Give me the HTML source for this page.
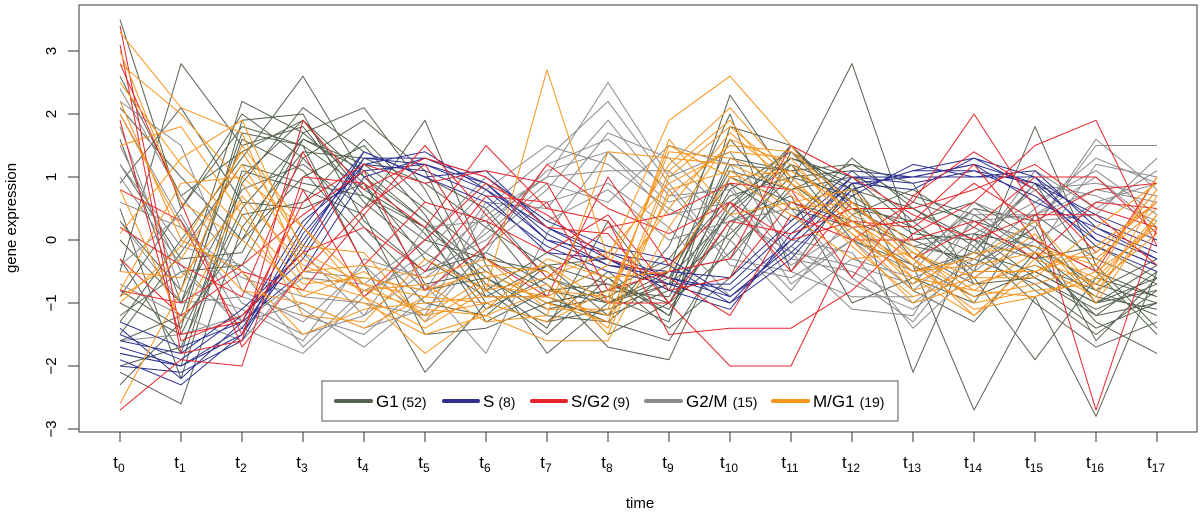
<!DOCTYPE html>
<html><head><meta charset="utf-8"><style>
html,body{margin:0;padding:0;background:#fff}
svg{display:block;font-family:"Liberation Sans",Arial,sans-serif}
</style></head><body>
<svg id="chart" width="1200" height="512" viewBox="0 0 1200 512" xmlns="http://www.w3.org/2000/svg">
<g id="lines"></g>
<rect x="79" y="5" width="1118" height="427" fill="none" stroke="#333" stroke-width="1"/>
<g id="yaxis"></g>
<g id="xaxis"></g>
<text transform="translate(16,218) rotate(-90)" text-anchor="middle" font-size="15" fill="#000">gene expression</text>
<text x="640" y="508" text-anchor="middle" font-size="15" fill="#000">time</text>
<g>
<rect x="322" y="381" width="576" height="40" fill="#fff" stroke="#555" stroke-width="1"/>
<g><line x1="336" y1="401" x2="371" y2="401" stroke="#56624f" stroke-width="4" stroke-linecap="round"/><text x="376" y="407" font-size="17">G1<tspan font-size="14" dx="3">(52)</tspan></text></g>
<g><line x1="444" y1="401" x2="478" y2="401" stroke="#2e3192" stroke-width="4" stroke-linecap="round"/><text x="483" y="407" font-size="17">S<tspan font-size="14" dx="4">(8)</tspan></text></g>
<g><line x1="532" y1="401" x2="566" y2="401" stroke="#e8242b" stroke-width="4" stroke-linecap="round"/><text x="571" y="407" font-size="17">S/G2<tspan font-size="14" dx="3">(9)</tspan></text></g>
<g><line x1="646" y1="401" x2="681" y2="401" stroke="#8a8a8a" stroke-width="4" stroke-linecap="round"/><text x="686" y="407" font-size="17">G2/M<tspan font-size="14" dx="5">(15)</tspan></text></g>
<g><line x1="773" y1="401" x2="808" y2="401" stroke="#f7941d" stroke-width="4" stroke-linecap="round"/><text x="813" y="407" font-size="17">M/G1<tspan font-size="14" dx="5">(19)</tspan></text></g>
</g>
</svg>
<script>
const timeLabels=["0","1","2","3","4","5","6","7","8","9","10","11","12","13","14","15","16","17"];
const yTicks=[-3,-2,-1,0,1,2,3];
const g1Series=[
[-1.0,-1.5,0.5,1.6,1.2,0.5,-0.3,-0.8,-1.0,-0.6,0.4,1.3,1.0,0.2,-0.2,-0.5,-1.0,-0.8],
[-1.8,-2.0,1.0,1.9,1.0,0.3,-0.5,-1.0,-0.8,-0.9,0.8,1.4,0.8,0.5,0.0,-0.3,-1.2,-1.0],
[3.5,0.5,1.8,1.5,0.8,0.2,-0.6,-1.2,-1.3,-0.5,2.3,0.9,2.8,0.0,-0.4,0.2,-1.6,-0.6],
[-0.5,2.8,1.5,1.8,0.6,-0.2,-0.8,-1.5,-0.6,-1.2,0.5,1.5,0.6,-0.2,-0.7,-0.4,-0.8,-1.2],
[-2.1,-2.6,0.2,1.4,1.3,0.9,0.2,-0.4,-0.7,-1.0,-0.2,0.8,1.2,0.6,0.3,0.0,-0.5,-0.9],
[0.3,-0.8,2.2,1.7,2.1,0.8,-0.9,-0.9,-1.3,-1.6,0.0,1.2,0.8,-2.1,0.1,-0.6,-1.1,-0.7],
[-1.3,0.0,1.3,2.6,1.0,0.1,-1.1,-0.6,-0.9,-0.4,0.7,1.0,1.1,0.3,-0.5,1.8,-0.4,-1.4],
[1.6,-1.0,0.8,1.2,0.5,1.9,-0.4,-1.8,-1.0,-0.7,1.6,0.5,0.2,-0.4,-2.7,-0.9,-2.8,-0.5],
[-0.8,-1.4,1.9,2.0,0.3,-0.5,-0.2,-0.7,-1.7,-1.9,0.2,1.5,0.5,0.3,0.6,0.0,-0.8,-0.3],
[2.1,1.0,0.0,1.0,1.5,0.4,-1.0,-1.3,-0.5,-1.2,1.0,0.6,0.3,-0.1,-0.3,-0.7,-1.4,-1.0],
[-1.6,-1.2,1.6,1.1,0.0,-1.0,-1.2,-0.4,-0.3,-0.8,1.3,1.1,0.6,0.2,-0.6,-1.9,-0.6,-0.9],
[0.9,2.1,0.6,0.5,0.9,-0.7,-0.5,-1.0,-1.2,-0.1,2.0,-0.5,0.9,-0.8,-1.3,-0.2,-1.3,-1.8],
[-1.2,-0.5,-0.4,1.3,1.9,1.1,-0.8,-0.2,-0.6,-1.4,-0.6,1.4,0.4,0.8,0.2,-0.3,-0.1,-0.6],
[-0.3,-1.8,1.1,0.8,0.4,-1.5,-1.4,-1.0,-0.8,-0.3,0.9,0.3,1.3,0.5,-0.1,-1.0,-1.7,-1.3],
[2.6,0.7,1.4,1.9,0.7,0.0,-0.3,-0.5,-1.5,-1.0,0.5,1.2,0.0,-0.4,-0.9,-0.5,-1.0,-0.4],
[-2.0,-1.7,0.4,0.6,1.6,0.6,0.3,-0.9,-0.4,-0.6,1.1,0.8,1.0,0.7,0.4,-0.2,-0.9,-1.1],
[0.0,-1.0,1.7,1.5,-0.4,-2.1,-1.0,-1.3,-1.1,-0.7,0.1,1.0,0.7,0.1,0.0,-0.8,-1.5,-0.8],
[1.2,-0.3,-0.2,1.6,1.1,0.3,-0.7,-1.4,0.3,-1.0,0.6,1.3,0.9,-0.3,0.5,0.3,-1.0,-0.6],
[-1.5,-0.2,1.2,0.9,0.7,0.2,-1.3,-0.8,-0.7,-1.1,0.3,0.7,-1.0,-0.6,-1.0,0.4,-0.3,-0.7],
[-0.9,0.5,2.0,1.3,0.2,-0.8,-0.6,-1.1,-0.9,-1.3,1.8,1.5,0.5,0.0,0.1,-0.1,-0.7,-1.0],
[0.5,-2.2,0.9,2.1,1.4,1.0,0.5,-0.6,-1.0,-0.5,-0.3,0.9,0.2,-0.5,-0.2,0.9,-0.5,-1.5],
[-2.3,-1.3,0.0,1.7,0.9,-0.3,-0.9,-0.4,-1.2,-0.8,1.2,1.1,1.2,0.9,-0.7,-0.6,-1.2,-0.5]
];
const g2mSeries=[
[2.4,0.7,-0.5,-1.7,-0.8,-0.4,0.4,1.0,2.5,1.0,1.4,0.0,-0.2,-1.4,-0.5,0.2,1.5,1.5],
[2.0,0.3,-1.0,-1.5,-1.2,-0.5,0.0,0.8,1.9,0.7,0.8,-0.3,-0.5,-1.0,-0.3,0.5,1.3,0.9],
[1.5,-0.5,-1.3,-1.0,-1.4,-1.1,-0.2,1.2,1.6,0.8,-0.4,-0.6,0.0,-0.8,0.0,0.8,0.9,0.7],
[-0.7,-1.2,-1.6,-0.5,-0.6,-0.8,0.6,0.5,1.7,1.3,0.4,-0.2,-1.1,-1.2,0.4,0.4,1.0,0.2],
[1.0,-0.4,-1.4,-1.8,-0.9,-0.2,0.8,1.5,1.2,0.5,0.0,-1.0,-0.3,-0.6,-0.2,1.1,0.5,1.1],
[0.3,-1.0,-0.9,-1.2,-1.5,-0.7,-1.8,0.1,1.4,0.4,0.6,-0.4,0.2,-0.4,0.6,0.2,1.6,0.8],
[2.2,1.5,-0.8,-1.3,-0.4,-1.3,-0.1,0.6,0.9,0.2,-0.9,-0.1,-0.7,-1.1,-0.4,0.3,0.4,1.3],
[-1.6,-1.5,-1.2,-0.2,-1.2,0.2,0.3,1.0,1.1,1.1,0.2,-0.8,0.4,-0.1,0.1,0.6,1.1,0.4],
[0.6,0.2,-0.6,-0.9,-1.0,-1.2,0.5,1.3,2.2,0.9,-0.3,-0.5,-0.9,-0.9,-0.6,0.0,0.6,0.9],
[1.8,-0.8,-1.1,-1.6,-0.3,-0.6,0.1,0.9,0.6,1.5,1.2,-0.2,-0.4,-0.7,0.3,0.4,0.8,0.6],
[-0.4,0.4,-1.3,-0.6,-0.7,0.0,1.0,0.3,0.8,0.0,0.3,0.5,-0.6,-1.3,-0.1,0.9,0.7,0.3],
[1.2,-0.1,-0.4,-1.1,-1.7,-0.9,0.2,1.1,1.4,0.6,0.9,-0.7,0.0,-0.5,0.5,-0.2,1.2,1.0]
];
const sSeries=[
[-1.7,-2.0,-1.4,0.0,1.3,1.2,0.9,0.0,-0.4,-0.6,-0.8,0.0,0.9,1.0,1.2,0.9,0.1,-0.3],
[-1.5,-1.9,-1.2,-0.3,1.2,1.4,0.8,0.2,-0.2,-0.4,-1.0,-0.3,0.8,1.1,1.3,1.0,0.3,-0.1],
[-1.9,-2.3,-1.5,0.2,1.4,1.0,0.6,-0.1,-0.5,-0.7,-0.7,0.2,1.0,0.9,1.1,0.7,0.0,-0.4],
[-1.3,-1.7,-1.3,-0.5,1.0,1.3,1.0,0.3,-0.1,-0.3,-0.9,-0.2,0.7,1.2,1.0,1.1,0.2,-0.2],
[-2.0,-2.1,-1.6,0.1,1.2,1.1,0.7,-0.2,-0.3,-0.8,-1.1,0.1,0.9,0.8,1.3,0.8,-0.1,-0.5],
[-1.6,-1.8,-1.1,-0.2,1.3,1.3,0.9,0.1,-0.4,-0.5,-0.6,0.3,1.1,1.0,1.2,0.6,0.2,-0.3],
[-1.4,-2.2,-1.3,0.3,1.1,1.2,0.8,0.0,-0.2,-0.6,-0.9,-0.1,0.8,1.1,1.1,0.9,0.4,0.0],
[-1.8,-2.0,-1.5,-0.1,1.4,1.0,1.1,0.2,-0.3,-0.7,-1.0,0.0,1.0,1.0,1.0,1.0,0.0,-0.4]
];
const sg2Series=[
[3.1,-1.8,-1.6,1.9,0.8,1.3,1.0,0.2,0.1,-1.0,-2.0,-2.0,0.0,0.6,2.0,0.5,-2.7,0.2],
[-2.7,-1.9,-2.0,1.0,0.9,0.2,1.5,0.5,0.3,-1.5,-1.4,-1.4,-0.8,0.1,0.6,1.5,1.9,-0.1],
[2.8,0.6,-1.7,-0.5,0.5,1.2,-0.3,-0.9,1.0,-0.4,0.6,0.0,0.3,0.2,0.9,0.3,0.8,0.9],
[3.4,-1.5,-1.3,0.6,1.2,0.9,1.1,0.9,-0.8,-0.5,-0.3,1.5,1.0,0.4,0.0,0.4,0.4,-0.4],
[-0.3,-1.2,-0.5,-0.8,0.4,1.5,0.4,-0.6,0.2,0.4,0.9,0.8,-0.6,0.7,1.4,0.8,-0.2,0.6],
[1.9,-1.6,-1.2,-0.2,0.2,-0.5,0.7,0.6,-1.0,-1.0,0.3,0.1,0.5,0.5,0.8,1.2,0.5,0.2],
[0.8,0.3,-1.5,0.8,-0.9,0.0,0.9,0.4,-0.3,-0.6,-1.2,0.4,0.0,0.0,0.3,-0.3,0.6,0.5],
[-0.8,-1.0,-0.4,0.4,1.1,-0.8,-0.1,1.2,0.5,0.1,0.6,-0.5,0.6,-0.3,0.2,1.0,1.0,0.1],
[0.2,-0.4,-0.9,1.4,-0.4,0.6,0.3,-0.2,0.4,-0.8,-0.6,0.6,0.2,0.3,1.2,0.0,-0.5,1.0]
];
const mg1Series=[
[2.8,2.0,0.9,-0.6,-0.9,-1.4,-0.8,2.7,-0.3,1.9,2.6,1.5,0.3,-0.3,-0.9,-0.7,-0.4,0.8],
[3.0,0.6,0.0,-0.8,-1.0,-1.5,-1.2,-1.6,-1.6,0.2,1.6,1.2,0.4,-0.6,-1.2,-0.3,-0.7,0.4],
[-2.6,-0.8,1.5,0.2,-0.7,-0.9,-1.0,-0.7,-1.4,1.0,1.8,1.0,0.1,-0.8,-0.5,-0.5,-0.2,0.6],
[2.5,1.2,0.2,-0.9,-0.5,-1.2,-0.6,-0.4,-1.0,1.5,1.0,0.4,-0.3,-0.2,-0.8,-0.9,-0.6,1.0],
[-0.9,-0.3,1.2,-0.3,-0.8,-0.7,-1.3,-1.2,1.4,1.3,1.2,0.8,0.2,-0.5,-0.3,0.3,-0.8,0.3],
[2.2,0.0,-0.5,-1.5,-1.1,-1.0,-0.9,-0.9,-1.2,0.7,1.5,1.4,0.6,-0.2,-0.6,-0.6,0.2,0.9],
[-0.8,0.9,1.0,0.2,-0.9,-1.8,-1.1,-0.3,-0.6,-0.5,1.0,1.1,0.5,-0.4,-1.1,-0.9,-0.5,0.2],
[1.5,1.8,0.4,-0.7,-0.6,-0.8,-0.5,-1.0,-1.3,1.1,1.9,0.7,0.0,-1.0,-0.7,-0.4,-0.9,0.7],
[0.8,-1.3,0.7,-0.4,-0.8,-1.1,-1.2,-0.8,-0.9,1.4,1.3,0.9,0.3,-0.5,-0.4,-0.2,-0.3,0.5],
[3.3,2.1,1.7,-0.5,-0.4,-0.6,-0.3,-1.1,-1.1,1.6,0.4,0.6,0.8,-0.1,-1.0,-0.8,-0.7,0.1],
[-0.5,-0.6,0.6,-1.2,-1.3,-0.3,-0.8,-0.6,-0.2,0.9,1.4,1.3,0.2,-0.7,-0.2,-0.1,-0.4,0.8],
[0.1,1.3,1.9,-0.2,-0.7,-1.2,-1.0,-1.3,-0.8,0.5,1.7,0.9,-0.1,-0.9,-0.6,0.1,-1.0,0.4],
[2.0,0.2,-0.8,-1.0,-1.4,-0.9,-0.4,-0.5,-1.5,0.8,1.1,0.5,0.6,-0.3,-1.2,-0.5,-0.1,0.6],
[-1.0,-0.1,1.4,-0.1,-0.2,-1.3,-0.7,-0.9,-0.4,1.2,2.1,1.0,0.1,-0.6,-0.8,-0.2,-0.6,0.3]
];
const NS="http://www.w3.org/2000/svg";
function xScale(i){return 120+i*(1157-120)/(timeLabels.length-1);}
function yScale(v){return 240-v*63;}
function mk(tag,attrs,parent){const e=document.createElementNS(NS,tag);for(const k in attrs)e.setAttribute(k,attrs[k]);parent.appendChild(e);return e;}
const linesG=document.getElementById('lines');
const groups=[["g1",g1Series,"#56624f"],["g2-m",g2mSeries,"#8a8a8a"],["s",sSeries,"#2e3192"],["s-g2",sg2Series,"#e8242b"],["m-g1",mg1Series,"#f7941d"]];
groups.forEach(([name,series,color])=>{
  series.forEach((vals,j)=>{
    const pts=vals.map((v,i)=>xScale(i).toFixed(1)+","+yScale(v).toFixed(1)).join(" ");
    const p=mk('polyline',{points:pts,fill:"none",stroke:color,"stroke-width":"1","stroke-linejoin":"round"},linesG);
    
    
  });
});
const yG=document.getElementById('yaxis');
yTicks.forEach(t=>{
  const y=yScale(t);
  const l=mk('line',{x1:68,x2:79,y1:y,y2:y,stroke:"#333"},yG);
  
  
  const tx=mk('text',{transform:"translate(56,"+y+") rotate(-90)","text-anchor":"middle","font-size":"15"},yG);
  tx.textContent=t<0?"\u2212"+Math.abs(t):String(t);
  
  
});
const xG=document.getElementById('xaxis');
timeLabels.forEach((lab,i)=>{
  const x=xScale(i);
  const l=mk('line',{x1:x,x2:x,y1:432,y2:442,stroke:"#333"},xG);
  
  
  const tx=mk('text',{x:x-1,y:468,"text-anchor":"middle","font-size":"17"},xG);
  
  
  const a=document.createElementNS(NS,'tspan');a.textContent="t";tx.appendChild(a);
  const b=document.createElementNS(NS,'tspan');b.setAttribute('font-size','12');b.setAttribute('dy','4');b.textContent=lab;tx.appendChild(b);
});
</script>
</body></html>
